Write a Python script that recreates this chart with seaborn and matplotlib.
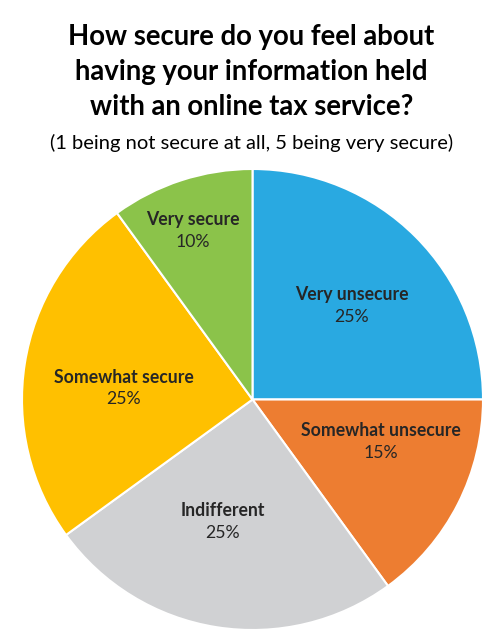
import matplotlib
matplotlib.use("Agg")
import matplotlib.pyplot as plt
import seaborn as sns

categories = ["Very unsecure", "Somewhat unsecure", "Indifferent", "Somewhat secure", "Very secure"]
values = [25, 15, 25, 25, 10]
colors = ["#29A9E1", "#ED7D31", "#D0D1D3", "#FFC000", "#8BC34A"]
# label centre positions (layout, in pie-radius units)
label_pos = [(0.43, 0.41), (0.557, -0.18), (-0.128, -0.53), (-0.56, 0.05), (-0.258, 0.733)]

sns.set_theme(style="white")
plt.rcParams["font.family"] = ["Lato", "DejaVu Sans"]

fig = plt.figure(figsize=(5.03, 6.43), dpi=100)
W, H = 503, 643
cx, cy, r = 252.5, 399.5, 230.5
ax = fig.add_axes([(cx - r) / W, (H - cy - r) / H, 2 * r / W, 2 * r / H])

wedges, _ = ax.pie(values, colors=colors, startangle=90, counterclock=False,
                   wedgeprops=dict(edgecolor="white", linewidth=1.5))
ax.set_xlim(-1, 1)
ax.set_ylim(-1, 1)
ax.set_aspect("equal")
ax.axis("off")

for cat, val, (x, y) in zip(categories, values, label_pos):
    ax.text(x, y + 0.047, cat, ha="center", va="center", fontsize=12.7,
            fontweight="bold", color="#262626")
    ax.text(x, y - 0.05, f"{val}%", ha="center", va="center", fontsize=12.7,
            color="#262626")

fig.text(0.5, 1 - 72 / H, "How secure do you feel about\nhaving your information held\nwith an online tax service?",
         ha="center", va="center", fontsize=19.8, fontweight="bold", color="black",
         linespacing=1.45)
fig.text(0.5, 1 - 143 / H, "(1 being not secure at all, 5 being very secure)",
         ha="center", va="center", fontsize=14.5, color="black")

fig.savefig("out.png", dpi=100)
